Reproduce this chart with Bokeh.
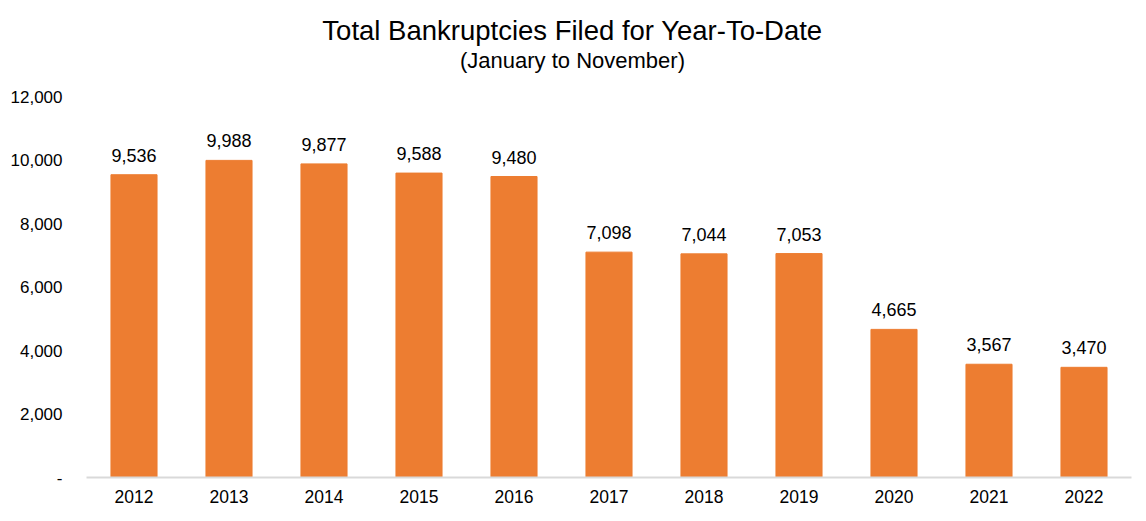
from bokeh.plotting import figure
from bokeh.models import ColumnDataSource, LabelSet, Label, FixedTicker, NumeralTickFormatter, Range1d
from bokeh.core.properties import value
from bokeh.embed import file_html
from bokeh.resources import INLINE

years = ["2012", "2013", "2014", "2015", "2016", "2017", "2018", "2019", "2020", "2021", "2022"]
filings = [9536, 9988, 9877, 9588, 9480, 7098, 7044, 7053, 4665, 3567, 3470]
labels = [f"{v:,}" for v in filings]
y_ticks = [0, 2000, 4000, 6000, 8000, 10000, 12000]
title_text = "Total Bankruptcies Filed for Year-To-Date"
subtitle_text = "(January to November)"

src = ColumnDataSource(dict(year=years, val=filings, lab=labels))

FONT = "Liberation Sans"
W, H = 1138, 513
FRAME_TOP_PX = 96          # pixel position of the 12,000 gridline
PX_PER_UNIT = (H - 36 - FRAME_TOP_PX) / 12000.0
Y_END = 12000 + FRAME_TOP_PX / PX_PER_UNIT   # frame extends up to canvas top; title sits inside it


def y_at(px_from_top):
    return Y_END - px_from_top / PX_PER_UNIT


p = figure(x_range=years, y_range=Range1d(0, Y_END), width=W, height=H,
           output_backend="svg", toolbar_location=None,
           min_border_left=86, min_border_right=7, min_border_bottom=36, min_border_top=0)

title_x = (572 - 86) / 95.0  # categorical synthetic coordinate of the canvas centre
p.add_layout(Label(x=title_x, y=y_at(30), text=title_text,
                   text_align="center", text_baseline="middle", text_font=FONT,
                   text_font_size="27.5px", text_color="#000000"))
p.add_layout(Label(x=title_x, y=y_at(60), text=subtitle_text,
                   text_align="center", text_baseline="middle", text_font=FONT,
                   text_font_size="22px", text_color="#000000"))

p.vbar(x="year", top="val", width=0.485, source=src, color="#ED7D31")

p.add_layout(LabelSet(x="year", y="val", text="lab", source=src, text_align="center",
                      text_baseline="bottom", y_offset=13, text_font=value(FONT),
                      text_font_size=value("18px"), text_color="#000000"))

p.outline_line_color = None
p.xgrid.grid_line_color = None
p.ygrid.grid_line_color = None

p.yaxis.ticker = FixedTicker(ticks=y_ticks)
p.yaxis.formatter = NumeralTickFormatter(format="0,0")
p.yaxis.major_label_overrides = {0: "-"}
p.yaxis.axis_line_color = None
p.yaxis.major_tick_line_color = None
p.yaxis.minor_tick_line_color = None
p.yaxis.major_label_standoff = 18

p.xaxis.axis_line_color = "#d9d9d9"
p.xaxis.axis_line_width = 2
p.xaxis.major_tick_line_color = None
p.xaxis.minor_tick_line_color = None
p.xaxis.major_label_standoff = 6

p.yaxis.major_label_text_font_size = "17px"
p.xaxis.major_label_text_font_size = "17.5px"
for ax in (p.xaxis, p.yaxis):
    ax.major_label_text_font = FONT
    ax.major_label_text_color = "#000000"

p.x_range.range_padding = 0
p.background_fill_color = "white"
p.border_fill_color = "white"

open("out.html", "w").write(file_html(p, INLINE))
